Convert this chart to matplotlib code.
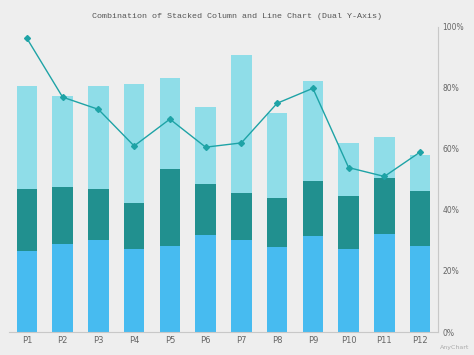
import matplotlib
matplotlib.use("Agg")
import matplotlib.pyplot as plt
import numpy as np

categories = ["P1", "P2", "P3", "P4", "P5", "P6", "P7", "P8", "P9", "P10", "P11", "P12"]
series_a = [26.6, 28.8, 30.2, 27.1, 28.3, 31.7, 30.3, 28.0, 31.4, 27.3, 32.0, 28.3]
series_b = [20.2, 18.6, 16.7, 15.3, 25.0, 16.9, 15.4, 16.0, 18.0, 17.4, 18.4, 18.0]
series_c = [33.9, 30.0, 33.8, 39.0, 30.1, 25.1, 45.1, 27.9, 33.0, 17.4, 13.5, 11.6]
line_pct = [96.3, 77.0, 73.0, 61.0, 69.8, 60.6, 62.0, 75.0, 79.9, 53.9, 51.0, 59.0]
right_ticks = [0, 20, 40, 60, 80, 100]

bg = "#eeeeee"
fig = plt.figure(figsize=(4.74, 3.55), dpi=100, facecolor=bg)
ax = fig.add_axes([9/474, 1 - 332/355, (438-9)/474, (332-27)/355])
ax.set_facecolor(bg)

x = np.arange(len(categories))
w = 0.575
a = np.array(series_a); b = np.array(series_b); c = np.array(series_c)
ax.bar(x, a, w, color="#47bbf0", zorder=2)
ax.bar(x, b, w, bottom=a, color="#21908f", zorder=2)
ax.bar(x, c, w, bottom=a + b, color="#8fdde8", zorder=2)
ax.set_xlim(-0.5, len(categories) - 0.5)
ax.set_ylim(0, 100)
ax.set_yticks([])
for s in ["left", "top", "right"]:
    ax.spines[s].set_visible(False)
ax.spines["bottom"].set_color("#c8c8c8")
ax.spines["bottom"].set_linewidth(0.8)
ax.set_xticks(x)
ax.set_xticklabels(categories, fontsize=6, color="#666666", family="DejaVu Sans")
ax.tick_params(axis="x", length=0, pad=3)

ax2 = ax.twinx()
ax2.set_ylim(0, 100)
ax2.plot(x, line_pct, color="#1ea3a6", lw=1.0, marker="D", ms=3, zorder=5)
ax2.set_yticks(right_ticks)
ax2.set_yticklabels([f"{t}%" for t in right_ticks], fontsize=5.5, color="#666666")
ax2.tick_params(axis="y", length=0, pad=3)
for s in ["left", "top", "bottom"]:
    ax2.spines[s].set_visible(False)
ax2.spines["right"].set_color("#c8c8c8")
ax2.spines["right"].set_linewidth(0.8)

fig.text(237/474, 1 - 16/355, "Combination of Stacked Column and Line Chart (Dual Y-Axis)",
         ha="center", va="center", fontsize=6, family="Liberation Mono", color="#555555")
fig.text(469/474, 1 - 348/355, "AnyChart", ha="right", va="center", fontsize=4.5, color="#aaaaaa")

fig.savefig("out.png", dpi=100, facecolor=bg)
